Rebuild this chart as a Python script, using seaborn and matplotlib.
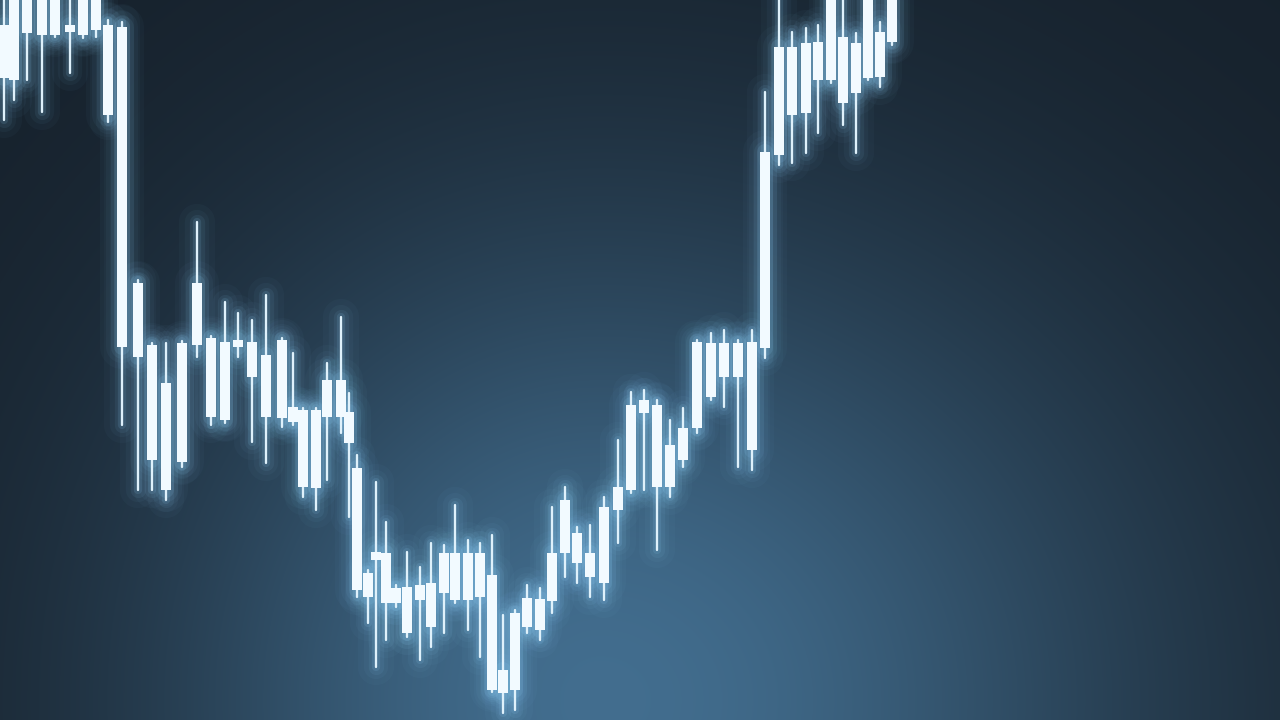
import numpy as np
import matplotlib
matplotlib.use("Agg")
import matplotlib.pyplot as plt
import seaborn as sns

# ---- data (time index and OHLC prices) ----
t = [4, 14, 27, 42, 55, 70, 83, 96, 108, 122,
     138, 152, 166, 182, 197, 211, 225, 238, 252, 266,
     282, 293, 303, 316, 327, 341, 349, 357, 368, 376,
     386, 396, 407, 420, 431, 444, 455, 468, 480, 492,
     503, 515, 527, 540, 552, 565, 577, 590, 604, 618,
     631, 644, 657, 670, 683, 697, 711, 724, 738, 752,
     765, 779, 792, 806, 818, 831, 843, 856, 868, 880, 892]
open_ = [695, 730, 730, 730, 730, 695, 730, 730, 695, 693,
         437, 375, 337, 377, 437, 382, 378, 380, 378, 365,
         380, 313, 310, 310, 340, 340, 308, 252, 147, 168,
         167, 132, 133, 135, 137, 167, 167, 167, 167, 145,
         50, 30, 93, 90, 119, 167, 157, 143, 137, 210,
         230, 307, 233, 233, 260, 292, 323, 343, 343, 270,
         372, 565, 605, 607, 640, 640, 617, 627, 642, 643, 678]
close = [642, 640, 687, 685, 685, 688, 685, 690, 605, 373,
         363, 260, 230, 258, 375, 303, 300, 373, 343, 303,
         302, 298, 233, 232, 303, 303, 277, 130, 123, 160,
         117, 117, 87, 120, 93, 127, 120, 120, 123, 30,
         27, 107, 122, 121, 167, 220, 187, 167, 213, 233,
         315, 320, 315, 275, 292, 378, 377, 377, 377, 378,
         568, 673, 673, 677, 678, 730, 683, 677, 730, 688, 730]
high = [730, 740, 740, 740, 740, 740, 740, 740, 700, 698,
        440, 377, 377, 379, 498, 384, 418, 407, 400, 425,
        382, 367, 312, 312, 357, 403, 327, 265, 150, 238,
        198, 135, 168, 153, 177, 175, 215, 180, 177, 185,
        105, 110, 135, 132, 213, 233, 193, 195, 223, 280,
        328, 330, 320, 300, 312, 380, 387, 390, 380, 390,
        628, 740, 688, 692, 695, 740, 740, 687, 740, 698, 740]
low = [600, 620, 640, 608, 683, 647, 682, 683, 598, 295,
       230, 230, 220, 253, 363, 295, 297, 363, 278, 257,
       293, 295, 223, 210, 240, 287, 203, 123, 97, 53,
       80, 113, 83, 60, 73, 87, 117, 90, 63, 28,
       7, 10, 87, 80, 107, 143, 137, 123, 120, 177,
       227, 230, 170, 223, 253, 287, 320, 313, 253, 250,
       362, 555, 557, 567, 587, 637, 595, 567, 640, 633, 675]

sns.set_theme(style="dark", rc={"axes.facecolor": "#18212c", "figure.facecolor": "#18212c"})

W, H = 1280, 720
fig = plt.figure(figsize=(12.8, 7.2), dpi=100)
ax = fig.add_axes([0, 0, 1, 1])

# ---- background: dark navy with a bluish glow from below-centre ----
yy, xx = np.mgrid[0:H, 0:W]
ry = H - yy
dark = np.array([0.085, 0.125, 0.165])
bright = np.array([0.26, 0.43, 0.56])
sx = np.where(xx < 600, 380.0, 470.0)
g = np.exp(-(((xx - 600) / sx) ** 2 + ((ry - 20) / 410.0) ** 2) * 0.72)
bg = dark[None, None, :] + (bright - dark)[None, None, :] * g[..., None]
bg = np.clip(bg, 0, 1)
ax.imshow(bg, extent=[0, W, 0, H], origin="upper", aspect="auto", zorder=0,
          interpolation="bilinear")

tt = np.array(t, dtype=float)
o = np.array(open_, dtype=float)
c = np.array(close, dtype=float)
hi = np.array(high, dtype=float)
lo = np.array(low, dtype=float)
btop = np.maximum(o, c)
bbot = np.minimum(o, c)

px = 0.72  # points per pixel at dpi 100
body_w = 10.0
wick_w = 2.3

glow = "#8ccdf5"
for extra, alpha in [(34, 0.03), (22, 0.045), (13, 0.075), (6, 0.13)]:
    ax.vlines(tt, lo, hi, colors=glow, linewidth=(wick_w + extra) * px,
              alpha=alpha, capstyle="round", zorder=2)
    ax.vlines(tt, bbot, btop, colors=glow, linewidth=(body_w + extra) * px,
              alpha=alpha, capstyle="round", zorder=2)

ax.vlines(tt, lo, hi, colors="#dff1fb", linewidth=wick_w * px, zorder=3,
          capstyle="round")
ax.bar(tt, btop - bbot, bottom=bbot, width=body_w, color="#f2faff",
       edgecolor="none", linewidth=0, zorder=4)

ax.set_xlim(0, W)
ax.set_ylim(0, H)
ax.axis("off")
fig.savefig("out.png", dpi=100)
